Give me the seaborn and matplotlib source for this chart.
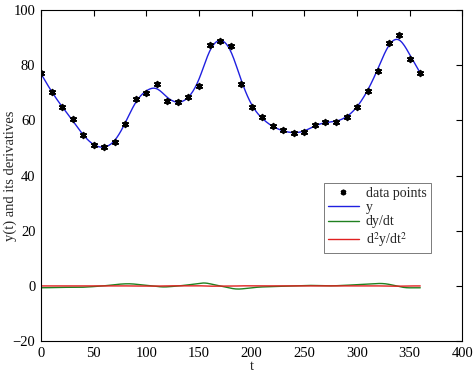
import numpy as np
import pandas as pd
import matplotlib
matplotlib.use('Agg')
import matplotlib.pyplot as plt
import seaborn as sns
from matplotlib.lines import Line2D

# sampled data
t_data = np.arange(0, 361, 10)
y_data = [77.1, 70.3, 64.9, 60.5, 54.6, 51.2, 50.5, 52.1, 58.7, 67.8,
          69.9, 73.2, 67.2, 66.6, 68.6, 72.5, 87.4, 88.6, 87.1, 73.1,
          65.0, 61.2, 57.8, 56.4, 55.5, 55.8, 58.4, 59.5, 59.5, 61.3,
          64.9, 70.8, 77.8, 87.9, 90.9, 82.4, 77.2]

# smoothing spline on a fine grid (penalised second differences)
t_fine = np.arange(0, 361, 1.0)
n = len(t_fine)
w = np.zeros(n)
target = np.zeros(n)
idx = (t_data / 1.0).astype(int)
w[idx] = 1.0
target[idx] = y_data
lam = 150.0
D = np.diff(np.eye(n), 2, axis=0)
A = np.diag(w) + lam * D.T @ D
y_fit = np.linalg.solve(A, w * target)
dy = np.gradient(y_fit, t_fine)
d2y = np.gradient(dy, t_fine)

curves = pd.DataFrame({'t': t_fine, 'y': y_fit, 'dy': dy, 'd2y': d2y})
points = pd.DataFrame({'t': t_data, 'y': y_data})

sns.set_style('white')
plt.rcParams['font.family'] = ['Liberation Serif', 'DejaVu Serif']
plt.rcParams['mathtext.fontset'] = 'stix'

fig = plt.figure(figsize=(4.74, 3.72), dpi=100)
ax = fig.add_axes([0.0865, 0.083, 0.889, 0.89])

star = (6, 2, 0)  # matlab-style asterisk
sns.scatterplot(data=points, x='t', y='y', marker=star, color='black', s=16,
                linewidth=1.3, edgecolor='black', ax=ax, zorder=3)
sns.lineplot(data=curves, x='t', y='y', color='#2020e0', lw=1.0, ax=ax)
sns.lineplot(data=curves, x='t', y='dy', color='#208020', lw=1.0, ax=ax)
sns.lineplot(data=curves, x='t', y='d2y', color='#e02020', lw=1.0, ax=ax)

ax.set_xlim(0, 400)
ax.set_ylim(-20, 100)
ax.set_xticks(range(0, 401, 50))
ax.set_yticks(range(-20, 101, 20))
ax.tick_params(direction='in', top=True, right=True, length=4,
               labelsize=10.5, colors='black', pad=4)
for s in ax.spines.values():
    s.set_color('black')
    s.set_linewidth(0.8)
ax.set_xlabel('t', fontsize=10.5, labelpad=0)
ax.set_ylabel('y(t) and its derivatives', fontsize=10.5, labelpad=-3)

handles = [
    Line2D([], [], marker=star, color='black', ls='none', markersize=4,
           markeredgewidth=1.3),
    Line2D([], [], color='#2020e0', lw=1.0),
    Line2D([], [], color='#208020', lw=1.0),
    Line2D([], [], color='#e02020', lw=1.0),
]
labels = ['data points', 'y', 'dy/dt', r'd$^2$y/dt$^2$']
leg = ax.legend(handles, labels, loc='upper left', bbox_to_anchor=(0.655, 0.5),
                fontsize=10, frameon=True, fancybox=False, edgecolor='#404040',
                handlelength=2.2, borderpad=0.3, labelspacing=0.1,
                handletextpad=0.5)
leg.get_frame().set_linewidth(0.6)

fig.savefig('out.png', dpi=100)
